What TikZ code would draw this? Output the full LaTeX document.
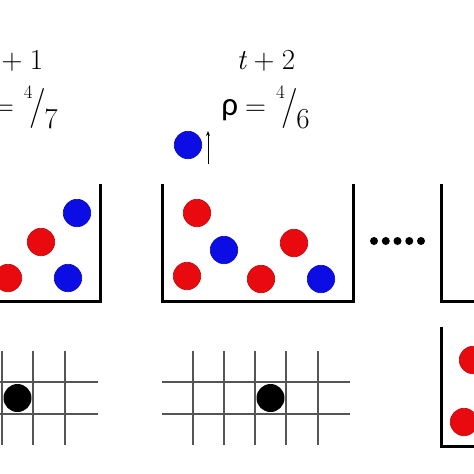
\documentclass[tikz,border=0pt]{standalone}
\usepackage{fontspec}
\newfontfamily\rhofont{Carlito}
\usetikzlibrary{arrows.meta}
\definecolor{ballred}{RGB}{232,10,14}
\definecolor{ballblue}{RGB}{12,12,228}
\definecolor{gridgray}{RGB}{85,85,85}
\tikzset{
  wall/.style={line width=3pt, line join=miter, line cap=rect},
  gridline/.style={line width=1.8pt, gridgray},
  redball/.style={circle, minimum size=27.5pt, inner sep=0pt, fill=ballred, draw=ballred!80!black, line width=0.6pt},
  blueball/.style={circle, minimum size=27.5pt, inner sep=0pt, fill=ballblue, draw=ballblue!80!black, line width=0.6pt},
  blackball/.style={circle, minimum size=28pt, inner sep=0pt, fill=black},
  dotnode/.style={circle, minimum size=8pt, inner sep=0pt, fill=black},
  lbl/.style={font=\fontsize{29}{34}\selectfont, inner sep=0pt, anchor=base},
}
\newcommand{\slfrac}[2]{\raisebox{17pt}{\fontsize{19}{19}\selectfont #1}\kern-3pt\raisebox{-3pt}{\scalebox{1.25}[1.38]{/}}\kern-2pt\raisebox{-13pt}{#2}}
\newcommand{\tplus}[1]{{\itshape t}\kern7.5pt+\kern7.5pt#1}
\newcommand{\rhoeq}[1]{{\rhofont\fontsize{33}{33}\selectfont ρ}\kern7pt=\kern10pt#1}
\begin{document}
\begin{tikzpicture}[x=1pt,y=-1pt]
\useasboundingbox (0,0) rectangle (474,474);
\fill[white] (0,0) rectangle (474,474);
% labels
\node[lbl] (t1) at (14,69) {\tplus{1}};
\node[lbl] (r1) at (13.5,115) {\rhoeq{\slfrac{4}{7}}};
\node[lbl] (t2) at (266,69) {\tplus{2}};
\node[lbl] (r2) at (265.5,115) {\rhoeq{\slfrac{4}{6}}};
% containers
\draw[wall] (-100,185) -- (-100,301) -- (100,301) -- (100,185);
\draw[wall] (162,185) -- (162,301) -- (353,301) -- (353,185);
\draw[wall] (441,185) -- (441,301) -- (480,301);
\draw[wall] (441,328) -- (441,446) -- (480,446);
% balls left container
\node[blueball] (l1) at (77,213) {};
\node[redball] (l2) at (41,242) {};
\node[redball] (l3) at (8,278) {};
\node[blueball] (l4) at (68,278) {};
% balls middle container
\node[redball] (m1) at (197,213) {};
\node[blueball] (m2) at (224,250) {};
\node[redball] (m3) at (187,276) {};
\node[redball] (m4) at (294,243) {};
\node[redball] (m5) at (261,279) {};
\node[blueball] (m6) at (321,279) {};
% escaping ball and arrow
\node[blueball] (esc) at (188,145) {};
\coordinate (a0) at (208,164);
\coordinate (a1) at (208,131);
\draw[line width=0.9pt, -{Stealth[length=5pt,width=4pt]}] (a0) -- (a1);
% dots
\foreach \i/\x in {1/374,2/385.75,3/397.5,4/409.25,5/421}
  \node[dotnode] (d\i) at (\x,241) {};
% bottom right container balls
\node[redball] (b1) at (473,360) {};
\node[redball] (b2) at (464,422) {};
% left grid
\foreach \x in {2,33,65} \draw[gridline] (\x,351) -- (\x,445);
\foreach \y in {382,414} \draw[gridline] (-5,\y) -- (98,\y);
\node[blackball] (g1) at (17.5,398) {};
% middle grid
\foreach \x in {193,224,255,286,318} \draw[gridline] (\x,351) -- (\x,445);
\foreach \y in {382,414} \draw[gridline] (162,\y) -- (350,\y);
\node[blackball] (g2) at (270.5,398) {};
\end{tikzpicture}
\end{document}
